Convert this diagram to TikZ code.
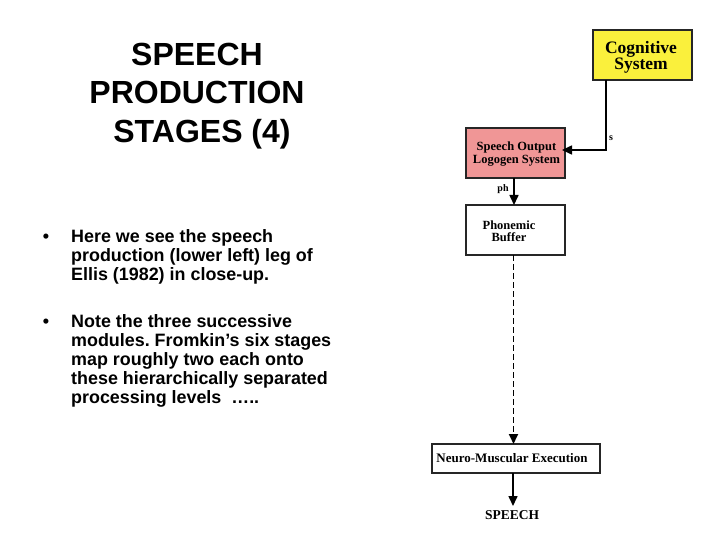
\documentclass[tikz,border=0pt]{standalone}
\usepackage{fontspec}
\setmainfont{Liberation Serif}
\newfontfamily\arialf{Liberation Sans}
\usetikzlibrary{arrows.meta}
\definecolor{cogyellow}{RGB}{250,240,60}
\definecolor{sopink}{RGB}{240,150,150}
\frenchspacing
\tikzset{
  box/.style={draw=black!85, line width=1.5pt, inner sep=0pt},
  boxtxt/.style={font=\bfseries\fontsize{12.5}{12.5}\selectfont, align=center, inner sep=0pt},
  arr/.style={line width=1.6pt, -{Triangle[length=10pt,width=9pt]}},
  lbl/.style={font=\bfseries\fontsize{10}{10}\selectfont, inner sep=0pt},
  title/.style={font=\arialf\bfseries\fontsize{32}{38.5}\selectfont, align=center, inner sep=0pt},
  body/.style={font=\arialf\bfseries\fontsize{17.9}{19}\selectfont, align=left, inner sep=0pt, anchor=north west},
  bul/.style={font=\arialf\bfseries\fontsize{17.9}{19}\selectfont, inner sep=0pt, anchor=base}
}
\begin{document}
\begin{tikzpicture}[x=1pt,y=-1pt]
\useasboundingbox[fill=white] (0,0) rectangle (720,540);
% title
\node[title] (title) at (197,96) {SPEECH\\PRODUCTION\\\hspace*{10pt}STAGES (4)};
% bullets
\node[bul] (b1) at (46,242) {•};
\node[body] (t1) at (71,229) {Here we see the speech\\production (lower left) leg of\\Ellis (1982) in close-up.};
\node[bul] (b2) at (46,327) {•};
\node[body] (t2) at (71,314) {Note the three successive\\modules. Fromkin’s six stages\\map roughly two each onto\\these hierarchically separated\\processing levels\ \ …..};
% diagram
\node[box, fill=cogyellow, minimum width=99pt, minimum height=50pt] (cog) at (642.5,55) {};
\node[boxtxt, font=\bfseries\fontsize{17.5}{16}\selectfont] (cogt) at (641,57) {Cognitive\\System};
\node[box, fill=sopink, minimum width=99pt, minimum height=50pt] (so) at (515.5,153) {};
\node[boxtxt] (sot) at (516.5,154) {Speech Output\\Logogen System};
\node[box, fill=white, minimum width=99pt, minimum height=50pt] (phon) at (515.5,230) {};
\node[boxtxt] (phont) at (509,231) {Phonemic\\Buffer};
\node[box, fill=white, minimum width=168pt, minimum height=29pt] (neuro) at (516,458.5) {};
\node[boxtxt, font=\bfseries\fontsize{13}{13}\selectfont] (neurot) at (512,458.5) {Neuro-Muscular Execution};
\node[boxtxt, font=\bfseries\fontsize{13.5}{13.5}\selectfont] (speech) at (512,515) {SPEECH};
\coordinate (cogdrop) at (606,80);
\coordinate (sotip) at (562,150);
\draw[arr] (cogdrop) |- (sotip);
\node[lbl] (s) at (611,138) {s};
\coordinate (phtop) at (514,178);
\coordinate (phbot) at (514,205);
\draw[arr] (phtop) -- (phbot);
\node[lbl] (ph) at (503,189) {ph};
\coordinate (dtop) at (513.5,255);
\coordinate (dbot) at (513.5,444);
\draw[arr, line width=1.8pt, dash pattern=on 6pt off 3pt] (dtop) -- (dbot);
\coordinate (ntop) at (513,473);
\coordinate (nbot) at (513,506);
\draw[arr] (ntop) -- (nbot);
\end{tikzpicture}
\end{document}
